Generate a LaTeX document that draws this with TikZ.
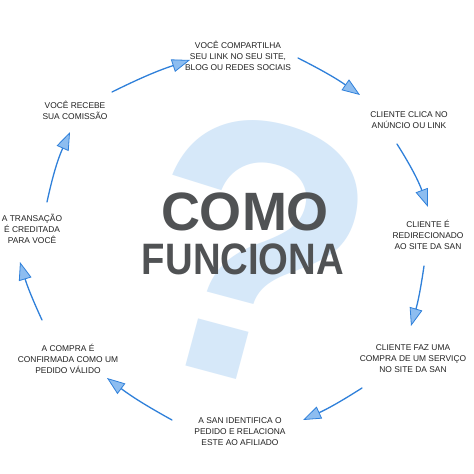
\documentclass[tikz,border=0pt]{standalone}
\usepackage{fontspec}
\setmainfont{Liberation Sans}
\usetikzlibrary{arrows.meta}
\definecolor{qblue}{HTML}{D6E8F9}
\definecolor{arrowblue}{HTML}{2F80DA}
\definecolor{arrowfill}{HTML}{8DBDF0}
\definecolor{txtgray}{HTML}{222222}
\definecolor{bigtxt}{HTML}{505254}
\tikzset{
  stepbox/.style={align=center, text=txtgray, font=\fontsize{8.4}{11}\selectfont, inner sep=0pt},
  flow/.style={draw=arrowblue, line width=1.3pt, line cap=round,
    -{Triangle[length=18pt,width=13pt,fill=arrowfill,line width=0.8pt]}},
  bigword/.style={text=bigtxt, font=\bfseries, inner sep=0pt}
}
\begin{document}
\begin{tikzpicture}[x=1pt,y=-1pt]
\useasboundingbox (0,0) rectangle (474,474);
\fill[white] (0,0) rectangle (474,474);
% big question mark
\node[text=qblue, font=\bfseries\fontsize{370}{370}\selectfont, rotate=-15, inner sep=0pt] (qmark) at (252,250) {?};
% central text
\node[bigword, font=\bfseries\fontsize{54}{54}\selectfont] (como) at (245,212) {COMO};
\node[bigword, font=\bfseries\fontsize{44}{44}\selectfont, xscale=0.87] (funciona) at (243,259) {FUNCIONA};
% steps
\node[stepbox] (t1) at (238,56) {VOCÊ COMPARTILHA\\SEU LINK NO SEU SITE,\\BLOG OU REDES SOCIAIS};
\node[stepbox] (t2) at (409,120) {CLIENTE CLICA NO\\ANÚNCIO OU LINK};
\node[stepbox] (t3) at (428,235) {CLIENTE É\\REDIRECIONADO\\AO SITE DA SAN};
\node[stepbox] (t4) at (413,359) {CLIENTE FAZ UMA\\COMPRA DE UM SERVIÇO\\NO SITE DA SAN};
\node[stepbox] (t5) at (240,432) {A SAN IDENTIFICA O\\PEDIDO E RELACIONA\\ESTE AO AFILIADO};
\node[stepbox] (t6) at (68,359) {A COMPRA É\\CONFIRMADA COMO UM\\PEDIDO VÁLIDO};
\node[stepbox] (t7) at (32,229) {A TRANSAÇÃO\\É CREDITADA\\PARA VOCÊ};
\node[stepbox] (t8) at (75,110) {VOCÊ RECEBE\\SUA COMISSÃO};
% arrow end points
\coordinate (a1s) at (298,58);  \coordinate (a1e) at (360,95);
\coordinate (a2s) at (397,144); \coordinate (a2e) at (428,207);
\coordinate (a3s) at (424,266); \coordinate (a3e) at (411,326);
\coordinate (a4s) at (362,388); \coordinate (a4e) at (303,420);
\coordinate (a5s) at (172,420); \coordinate (a5e) at (107,378);
\coordinate (a6s) at (42,320);  \coordinate (a6e) at (20,262);
\coordinate (a7s) at (47,202);  \coordinate (a7e) at (70,132);
\coordinate (a8s) at (112,92);  \coordinate (a8e) at (190,60);
\draw[flow] (a1s) to[bend left=4] (a1e);
\draw[flow] (a2s) to[bend left=6] (a2e);
\draw[flow] (a3s) to[bend left=4] (a3e);
\draw[flow] (a4s) to[bend left=4] (a4e);
\draw[flow] (a5s) to[bend left=4] (a5e);
\draw[flow] (a6s) to[bend left=4] (a6e);
\draw[flow] (a7s) to[bend left=6] (a7e);
\draw[flow] (a8s) to[bend left=4] (a8e);
\end{tikzpicture}
\end{document}
